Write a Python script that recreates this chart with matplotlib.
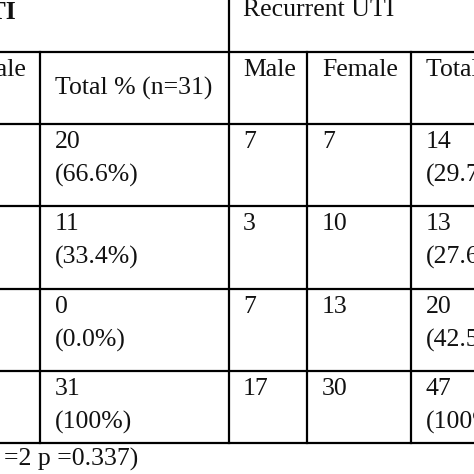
import matplotlib.pyplot as plt

# table contents (visible crop of a larger table)
sub_headers = ["Male", "Female", "Total %"]
first_total = ["20", "11", "0", "31"]
first_pct = ["(66.6%)", "(33.4%)", "(0.0%)", "(100%)"]
rec_male = ["7", "3", "7", "17"]
rec_female = ["7", "10", "13", "30"]
rec_total = ["14", "13", "20", "47"]
rec_pct = ["(29.7%)", "(27.6%)", "(42.5%)", "(100%)"]
footnote = "df =2 p =0.337)"

fig = plt.figure(figsize=(4.74, 4.74), dpi=100)
ax = fig.add_axes([0, 0, 1, 1])
ax.set_xlim(0, 474)
ax.set_ylim(474, 0)
ax.axis("off")

font = dict(family="Liberation Serif", fontsize=18.5, color="#111111")
lw = 1.6

# grid lines
ax.plot([0, 474], [52, 52], color="black", lw=lw)
for y in [124, 206, 289, 371, 443]:
    ax.plot([0, 474], [y, y], color="black", lw=lw)
ax.plot([229, 229], [0, 443], color="black", lw=lw)
for x in [40, 307, 411]:
    ax.plot([x, x], [52, 443], color="black", lw=lw)

# headers
ax.text(16, 12, "UTI", ha="right", va="center", fontweight="bold", **font)
ax.text(243, 10, "Recurrent UTI", ha="left", va="center", **font)
ax.text(26, 70, "Female", ha="right", va="center", **font)
ax.text(55, 88, "Total % (n=31)", ha="left", va="center", **font)
for x, h in zip([243, 322, 426], sub_headers):
    ax.text(x, 70, h, ha="left", va="center", **font)

# body rows
row_tops = [124, 206, 289, 371]
for i, top in enumerate(row_tops):
    y1, y2 = top + 18, top + 51
    ax.text(55, y1, first_total[i], ha="left", va="center", **font)
    ax.text(55, y2, first_pct[i], ha="left", va="center", **font)
    ax.text(243, y1, rec_male[i], ha="left", va="center", **font)
    ax.text(322, y1, rec_female[i], ha="left", va="center", **font)
    ax.text(426, y1, rec_total[i], ha="left", va="center", **font)
    ax.text(426, y2, rec_pct[i], ha="left", va="center", **font)

ax.text(138, 459, footnote, ha="right", va="center", **font)

fig.savefig("out.png", dpi=100)
